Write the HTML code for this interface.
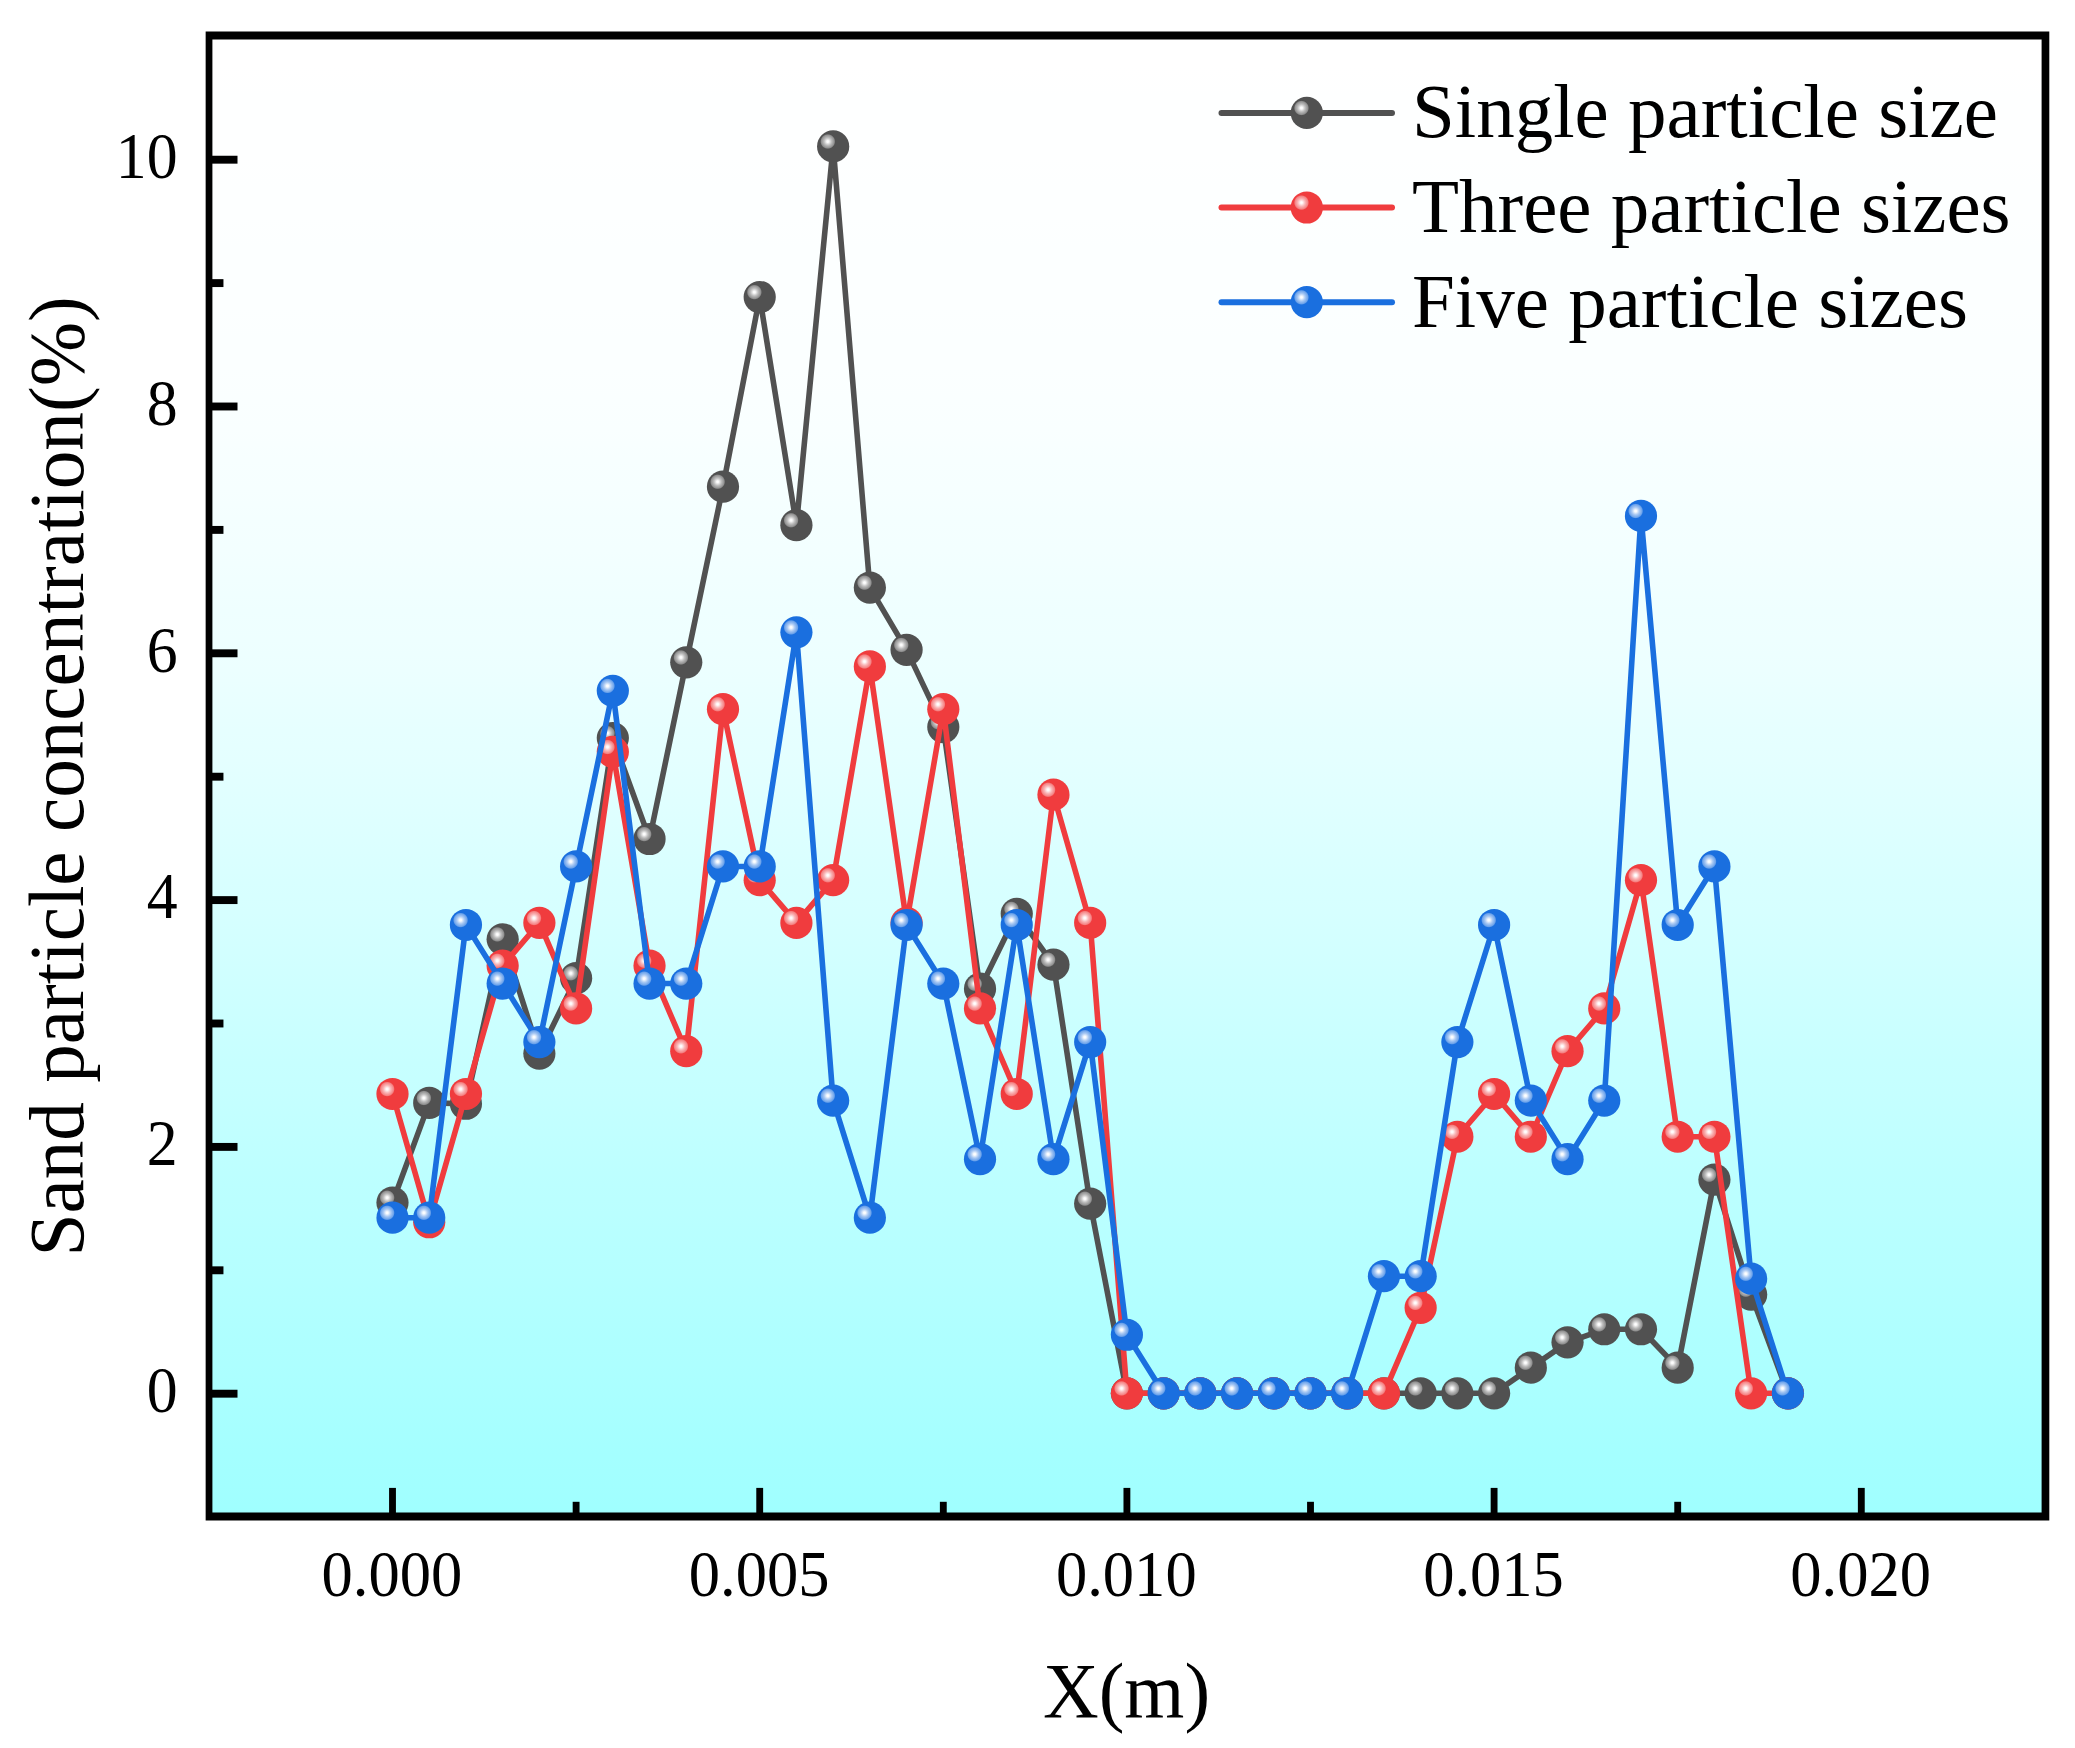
<!DOCTYPE html>
<html lang="en"><head><meta charset="utf-8"><title>Sand particle concentration</title>
<style>
html,body{margin:0;padding:0;background:#fff;}
body{width:2075px;height:1748px;overflow:hidden;}
svg{display:block;}
text{font-family:"Liberation Serif","Times New Roman",serif;fill:#000;}
.k{font-size:65px;}
.t{font-size:77.2px;}
</style></head><body>
<svg width="2075" height="1748" viewBox="0 0 2075 1748">
<defs>
<linearGradient id="bg" x1="0" y1="0" x2="0" y2="1">
<stop offset="0.0000" stop-color="#ffffff"/><stop offset="0.0204" stop-color="#ffffff"/><stop offset="0.0408" stop-color="#feffff"/><stop offset="0.0612" stop-color="#feffff"/><stop offset="0.0816" stop-color="#feffff"/><stop offset="0.1020" stop-color="#fdffff"/><stop offset="0.1224" stop-color="#fdffff"/><stop offset="0.1429" stop-color="#fcffff"/><stop offset="0.1633" stop-color="#fcffff"/><stop offset="0.1837" stop-color="#fcffff"/><stop offset="0.2041" stop-color="#fbffff"/><stop offset="0.2245" stop-color="#fbffff"/><stop offset="0.2449" stop-color="#faffff"/><stop offset="0.2653" stop-color="#f9ffff"/><stop offset="0.2857" stop-color="#f7ffff"/><stop offset="0.3061" stop-color="#f6ffff"/><stop offset="0.3265" stop-color="#f4ffff"/><stop offset="0.3469" stop-color="#f3ffff"/><stop offset="0.3673" stop-color="#f1ffff"/><stop offset="0.3878" stop-color="#efffff"/><stop offset="0.4082" stop-color="#eeffff"/><stop offset="0.4286" stop-color="#ecffff"/><stop offset="0.4490" stop-color="#e9ffff"/><stop offset="0.4694" stop-color="#e6ffff"/><stop offset="0.4898" stop-color="#e4ffff"/><stop offset="0.5102" stop-color="#e1ffff"/><stop offset="0.5306" stop-color="#deffff"/><stop offset="0.5510" stop-color="#dbffff"/><stop offset="0.5714" stop-color="#d8ffff"/><stop offset="0.5918" stop-color="#d6ffff"/><stop offset="0.6122" stop-color="#d3ffff"/><stop offset="0.6327" stop-color="#d0ffff"/><stop offset="0.6531" stop-color="#cdffff"/><stop offset="0.6735" stop-color="#caffff"/><stop offset="0.6939" stop-color="#c7ffff"/><stop offset="0.7143" stop-color="#c5ffff"/><stop offset="0.7347" stop-color="#c2ffff"/><stop offset="0.7551" stop-color="#bfffff"/><stop offset="0.7755" stop-color="#bcffff"/><stop offset="0.7959" stop-color="#baffff"/><stop offset="0.8163" stop-color="#b7ffff"/><stop offset="0.8367" stop-color="#b5ffff"/><stop offset="0.8571" stop-color="#b2ffff"/><stop offset="0.8776" stop-color="#afffff"/><stop offset="0.8980" stop-color="#adffff"/><stop offset="0.9184" stop-color="#aaffff"/><stop offset="0.9388" stop-color="#a7ffff"/><stop offset="0.9592" stop-color="#a4ffff"/><stop offset="0.9796" stop-color="#a2ffff"/><stop offset="1.0000" stop-color="#9fffff"/>
</linearGradient>
<radialGradient id="mg" cx="0.334" cy="0.348" r="0.235">
<stop offset="0" stop-color="#ffffff"/><stop offset="0.14" stop-color="#fafafa"/><stop offset="0.5" stop-color="#bdbdbd"/><stop offset="0.86" stop-color="#909090"/><stop offset="1" stop-color="#515151"/>
</radialGradient>
<radialGradient id="mr" cx="0.334" cy="0.348" r="0.235">
<stop offset="0" stop-color="#ffffff"/><stop offset="0.14" stop-color="#fff9f9"/><stop offset="0.5" stop-color="#f9b5b6"/><stop offset="0.86" stop-color="#f58283"/><stop offset="1" stop-color="#F03C3E"/>
</radialGradient>
<radialGradient id="mb" cx="0.334" cy="0.348" r="0.235">
<stop offset="0" stop-color="#ffffff"/><stop offset="0.14" stop-color="#f8fbfe"/><stop offset="0.5" stop-color="#a8c8f3"/><stop offset="0.86" stop-color="#6ca3eb"/><stop offset="1" stop-color="#1A6FDF"/>
</radialGradient>
</defs>
<rect x="209.0" y="35.55" width="1836.45" height="1480.95" fill="url(#bg)"/>
<g fill="#000"><rect x="211.4" y="1389.75" width="26.10" height="7.9"/><rect x="211.4" y="1142.95" width="26.10" height="7.9"/><rect x="211.4" y="896.15" width="26.10" height="7.9"/><rect x="211.4" y="649.35" width="26.10" height="7.9"/><rect x="211.4" y="402.55" width="26.10" height="7.9"/><rect x="211.4" y="155.75" width="26.10" height="7.9"/><rect x="211.4" y="1266.35" width="12.05" height="7.9"/><rect x="211.4" y="1019.55" width="12.05" height="7.9"/><rect x="211.4" y="772.75" width="12.05" height="7.9"/><rect x="211.4" y="525.95" width="12.05" height="7.9"/><rect x="211.4" y="279.15" width="12.05" height="7.9"/><rect x="389.07" y="1487.9" width="6.85" height="25.70"/><rect x="756.28" y="1487.9" width="6.85" height="25.70"/><rect x="1123.48" y="1487.9" width="6.85" height="25.70"/><rect x="1490.67" y="1487.9" width="6.85" height="25.70"/><rect x="1857.88" y="1487.9" width="6.85" height="25.70"/><rect x="572.68" y="1501.8" width="6.85" height="11.80"/><rect x="939.88" y="1501.8" width="6.85" height="11.80"/><rect x="1307.08" y="1501.8" width="6.85" height="11.80"/><rect x="1674.28" y="1501.8" width="6.85" height="11.80"/></g>
<g><polyline points="392.50,1202.57 429.22,1102.89 465.94,1103.75 502.66,939.30 539.38,1053.54 576.10,978.16 612.82,738.08 649.54,839.00 686.26,662.33 722.98,486.65 759.70,297.03 796.42,525.15 833.14,146.40 869.86,587.57 906.58,649.87 943.30,727.10 980.02,988.65 1016.74,913.76 1053.46,964.59 1090.18,1203.56 1126.90,1393.30 1163.62,1393.30 1200.34,1393.30 1237.06,1393.30 1273.78,1393.30 1310.50,1393.30 1347.22,1393.30 1383.94,1393.30 1420.66,1393.30 1457.38,1393.30 1494.10,1393.30 1530.82,1367.64 1567.54,1342.35 1604.26,1329.27 1640.98,1329.27 1677.70,1367.64 1714.42,1179.62 1751.14,1294.60 1787.86,1393.30" fill="none" stroke="#515151" stroke-width="5.6" stroke-linejoin="round" stroke-linecap="round"/>
<circle cx="392.50" cy="1202.57" r="16.1" fill="url(#mg)"/>
<circle cx="429.22" cy="1102.89" r="16.1" fill="url(#mg)"/>
<circle cx="465.94" cy="1103.75" r="16.1" fill="url(#mg)"/>
<circle cx="502.66" cy="939.30" r="16.1" fill="url(#mg)"/>
<circle cx="539.38" cy="1053.54" r="16.1" fill="url(#mg)"/>
<circle cx="576.10" cy="978.16" r="16.1" fill="url(#mg)"/>
<circle cx="612.82" cy="738.08" r="16.1" fill="url(#mg)"/>
<circle cx="649.54" cy="839.00" r="16.1" fill="url(#mg)"/>
<circle cx="686.26" cy="662.33" r="16.1" fill="url(#mg)"/>
<circle cx="722.98" cy="486.65" r="16.1" fill="url(#mg)"/>
<circle cx="759.70" cy="297.03" r="16.1" fill="url(#mg)"/>
<circle cx="796.42" cy="525.15" r="16.1" fill="url(#mg)"/>
<circle cx="833.14" cy="146.40" r="16.1" fill="url(#mg)"/>
<circle cx="869.86" cy="587.57" r="16.1" fill="url(#mg)"/>
<circle cx="906.58" cy="649.87" r="16.1" fill="url(#mg)"/>
<circle cx="943.30" cy="727.10" r="16.1" fill="url(#mg)"/>
<circle cx="980.02" cy="988.65" r="16.1" fill="url(#mg)"/>
<circle cx="1016.74" cy="913.76" r="16.1" fill="url(#mg)"/>
<circle cx="1053.46" cy="964.59" r="16.1" fill="url(#mg)"/>
<circle cx="1090.18" cy="1203.56" r="16.1" fill="url(#mg)"/>
<circle cx="1126.90" cy="1393.30" r="16.1" fill="url(#mg)"/>
<circle cx="1163.62" cy="1393.30" r="16.1" fill="url(#mg)"/>
<circle cx="1200.34" cy="1393.30" r="16.1" fill="url(#mg)"/>
<circle cx="1237.06" cy="1393.30" r="16.1" fill="url(#mg)"/>
<circle cx="1273.78" cy="1393.30" r="16.1" fill="url(#mg)"/>
<circle cx="1310.50" cy="1393.30" r="16.1" fill="url(#mg)"/>
<circle cx="1347.22" cy="1393.30" r="16.1" fill="url(#mg)"/>
<circle cx="1383.94" cy="1393.30" r="16.1" fill="url(#mg)"/>
<circle cx="1420.66" cy="1393.30" r="16.1" fill="url(#mg)"/>
<circle cx="1457.38" cy="1393.30" r="16.1" fill="url(#mg)"/>
<circle cx="1494.10" cy="1393.30" r="16.1" fill="url(#mg)"/>
<circle cx="1530.82" cy="1367.64" r="16.1" fill="url(#mg)"/>
<circle cx="1567.54" cy="1342.35" r="16.1" fill="url(#mg)"/>
<circle cx="1604.26" cy="1329.27" r="16.1" fill="url(#mg)"/>
<circle cx="1640.98" cy="1329.27" r="16.1" fill="url(#mg)"/>
<circle cx="1677.70" cy="1367.64" r="16.1" fill="url(#mg)"/>
<circle cx="1714.42" cy="1179.62" r="16.1" fill="url(#mg)"/>
<circle cx="1751.14" cy="1294.60" r="16.1" fill="url(#mg)"/>
<circle cx="1787.86" cy="1393.30" r="16.1" fill="url(#mg)"/></g>
<g><polyline points="392.50,1093.98 429.22,1222.26 465.94,1093.98 502.66,965.70 539.38,922.94 576.10,1008.46 612.82,751.90 649.54,965.70 686.26,1051.22 722.98,709.14 759.70,880.18 796.42,922.94 833.14,880.18 869.86,666.38 906.58,922.94 943.30,709.14 980.02,1008.46 1016.74,1093.98 1053.46,794.66 1090.18,922.94 1126.90,1393.30 1163.62,1393.30 1200.34,1393.30 1237.06,1393.30 1273.78,1393.30 1310.50,1393.30 1347.22,1393.30 1383.94,1393.30 1420.66,1307.78 1457.38,1136.74 1494.10,1093.98 1530.82,1136.74 1567.54,1051.22 1604.26,1008.46 1640.98,880.18 1677.70,1136.74 1714.42,1136.74 1751.14,1393.30 1787.86,1393.30" fill="none" stroke="#F03C3E" stroke-width="5.6" stroke-linejoin="round" stroke-linecap="round"/>
<circle cx="392.50" cy="1093.98" r="16.1" fill="url(#mr)"/>
<circle cx="429.22" cy="1222.26" r="16.1" fill="url(#mr)"/>
<circle cx="465.94" cy="1093.98" r="16.1" fill="url(#mr)"/>
<circle cx="502.66" cy="965.70" r="16.1" fill="url(#mr)"/>
<circle cx="539.38" cy="922.94" r="16.1" fill="url(#mr)"/>
<circle cx="576.10" cy="1008.46" r="16.1" fill="url(#mr)"/>
<circle cx="612.82" cy="751.90" r="16.1" fill="url(#mr)"/>
<circle cx="649.54" cy="965.70" r="16.1" fill="url(#mr)"/>
<circle cx="686.26" cy="1051.22" r="16.1" fill="url(#mr)"/>
<circle cx="722.98" cy="709.14" r="16.1" fill="url(#mr)"/>
<circle cx="759.70" cy="880.18" r="16.1" fill="url(#mr)"/>
<circle cx="796.42" cy="922.94" r="16.1" fill="url(#mr)"/>
<circle cx="833.14" cy="880.18" r="16.1" fill="url(#mr)"/>
<circle cx="869.86" cy="666.38" r="16.1" fill="url(#mr)"/>
<circle cx="906.58" cy="922.94" r="16.1" fill="url(#mr)"/>
<circle cx="943.30" cy="709.14" r="16.1" fill="url(#mr)"/>
<circle cx="980.02" cy="1008.46" r="16.1" fill="url(#mr)"/>
<circle cx="1016.74" cy="1093.98" r="16.1" fill="url(#mr)"/>
<circle cx="1053.46" cy="794.66" r="16.1" fill="url(#mr)"/>
<circle cx="1090.18" cy="922.94" r="16.1" fill="url(#mr)"/>
<circle cx="1126.90" cy="1393.30" r="16.1" fill="url(#mr)"/>
<circle cx="1163.62" cy="1393.30" r="16.1" fill="url(#mr)"/>
<circle cx="1200.34" cy="1393.30" r="16.1" fill="url(#mr)"/>
<circle cx="1237.06" cy="1393.30" r="16.1" fill="url(#mr)"/>
<circle cx="1273.78" cy="1393.30" r="16.1" fill="url(#mr)"/>
<circle cx="1310.50" cy="1393.30" r="16.1" fill="url(#mr)"/>
<circle cx="1347.22" cy="1393.30" r="16.1" fill="url(#mr)"/>
<circle cx="1383.94" cy="1393.30" r="16.1" fill="url(#mr)"/>
<circle cx="1420.66" cy="1307.78" r="16.1" fill="url(#mr)"/>
<circle cx="1457.38" cy="1136.74" r="16.1" fill="url(#mr)"/>
<circle cx="1494.10" cy="1093.98" r="16.1" fill="url(#mr)"/>
<circle cx="1530.82" cy="1136.74" r="16.1" fill="url(#mr)"/>
<circle cx="1567.54" cy="1051.22" r="16.1" fill="url(#mr)"/>
<circle cx="1604.26" cy="1008.46" r="16.1" fill="url(#mr)"/>
<circle cx="1640.98" cy="880.18" r="16.1" fill="url(#mr)"/>
<circle cx="1677.70" cy="1136.74" r="16.1" fill="url(#mr)"/>
<circle cx="1714.42" cy="1136.74" r="16.1" fill="url(#mr)"/>
<circle cx="1751.14" cy="1393.30" r="16.1" fill="url(#mr)"/>
<circle cx="1787.86" cy="1393.30" r="16.1" fill="url(#mr)"/></g>
<g><polyline points="392.50,1217.68 429.22,1217.68 465.94,924.99 502.66,983.53 539.38,1042.07 576.10,866.45 612.82,690.83 649.54,983.53 686.26,983.53 722.98,866.45 759.70,866.45 796.42,632.29 833.14,1100.60 869.86,1217.68 906.58,924.99 943.30,983.53 980.02,1159.14 1016.74,924.99 1053.46,1159.14 1090.18,1042.07 1126.90,1334.76 1163.62,1393.30 1200.34,1393.30 1237.06,1393.30 1273.78,1393.30 1310.50,1393.30 1347.22,1393.30 1383.94,1276.22 1420.66,1276.22 1457.38,1042.07 1494.10,924.99 1530.82,1100.60 1567.54,1159.14 1604.26,1100.60 1640.98,515.89 1677.70,924.99 1714.42,866.45 1751.14,1278.69 1787.86,1393.30" fill="none" stroke="#1A6FDF" stroke-width="5.6" stroke-linejoin="round" stroke-linecap="round"/>
<circle cx="392.50" cy="1217.68" r="16.1" fill="url(#mb)"/>
<circle cx="429.22" cy="1217.68" r="16.1" fill="url(#mb)"/>
<circle cx="465.94" cy="924.99" r="16.1" fill="url(#mb)"/>
<circle cx="502.66" cy="983.53" r="16.1" fill="url(#mb)"/>
<circle cx="539.38" cy="1042.07" r="16.1" fill="url(#mb)"/>
<circle cx="576.10" cy="866.45" r="16.1" fill="url(#mb)"/>
<circle cx="612.82" cy="690.83" r="16.1" fill="url(#mb)"/>
<circle cx="649.54" cy="983.53" r="16.1" fill="url(#mb)"/>
<circle cx="686.26" cy="983.53" r="16.1" fill="url(#mb)"/>
<circle cx="722.98" cy="866.45" r="16.1" fill="url(#mb)"/>
<circle cx="759.70" cy="866.45" r="16.1" fill="url(#mb)"/>
<circle cx="796.42" cy="632.29" r="16.1" fill="url(#mb)"/>
<circle cx="833.14" cy="1100.60" r="16.1" fill="url(#mb)"/>
<circle cx="869.86" cy="1217.68" r="16.1" fill="url(#mb)"/>
<circle cx="906.58" cy="924.99" r="16.1" fill="url(#mb)"/>
<circle cx="943.30" cy="983.53" r="16.1" fill="url(#mb)"/>
<circle cx="980.02" cy="1159.14" r="16.1" fill="url(#mb)"/>
<circle cx="1016.74" cy="924.99" r="16.1" fill="url(#mb)"/>
<circle cx="1053.46" cy="1159.14" r="16.1" fill="url(#mb)"/>
<circle cx="1090.18" cy="1042.07" r="16.1" fill="url(#mb)"/>
<circle cx="1126.90" cy="1334.76" r="16.1" fill="url(#mb)"/>
<circle cx="1163.62" cy="1393.30" r="16.1" fill="url(#mb)"/>
<circle cx="1200.34" cy="1393.30" r="16.1" fill="url(#mb)"/>
<circle cx="1237.06" cy="1393.30" r="16.1" fill="url(#mb)"/>
<circle cx="1273.78" cy="1393.30" r="16.1" fill="url(#mb)"/>
<circle cx="1310.50" cy="1393.30" r="16.1" fill="url(#mb)"/>
<circle cx="1347.22" cy="1393.30" r="16.1" fill="url(#mb)"/>
<circle cx="1383.94" cy="1276.22" r="16.1" fill="url(#mb)"/>
<circle cx="1420.66" cy="1276.22" r="16.1" fill="url(#mb)"/>
<circle cx="1457.38" cy="1042.07" r="16.1" fill="url(#mb)"/>
<circle cx="1494.10" cy="924.99" r="16.1" fill="url(#mb)"/>
<circle cx="1530.82" cy="1100.60" r="16.1" fill="url(#mb)"/>
<circle cx="1567.54" cy="1159.14" r="16.1" fill="url(#mb)"/>
<circle cx="1604.26" cy="1100.60" r="16.1" fill="url(#mb)"/>
<circle cx="1640.98" cy="515.89" r="16.1" fill="url(#mb)"/>
<circle cx="1677.70" cy="924.99" r="16.1" fill="url(#mb)"/>
<circle cx="1714.42" cy="866.45" r="16.1" fill="url(#mb)"/>
<circle cx="1751.14" cy="1278.69" r="16.1" fill="url(#mb)"/>
<circle cx="1787.86" cy="1393.30" r="16.1" fill="url(#mb)"/></g>
<path fill="#000" fill-rule="evenodd" d="M205.65 31.6H2049.3V1520.55H205.65ZM212.4 39.5V1512.6H2041.6V39.5Z"/>
<text class="k" x="177.6" y="1411.9" text-anchor="end" textLength="30.88" lengthAdjust="spacingAndGlyphs">0</text>
<text class="k" x="177.6" y="1165.1" text-anchor="end" textLength="30.88" lengthAdjust="spacingAndGlyphs">2</text>
<text class="k" x="177.6" y="918.3" text-anchor="end" textLength="30.88" lengthAdjust="spacingAndGlyphs">4</text>
<text class="k" x="177.6" y="671.5" text-anchor="end" textLength="30.88" lengthAdjust="spacingAndGlyphs">6</text>
<text class="k" x="177.6" y="424.7" text-anchor="end" textLength="30.88" lengthAdjust="spacingAndGlyphs">8</text>
<text class="k" x="177.6" y="177.9" text-anchor="end" textLength="61.75" lengthAdjust="spacingAndGlyphs">10</text>
<text class="k" x="391.9" y="1596.0" text-anchor="middle" textLength="140.69" lengthAdjust="spacingAndGlyphs">0.000</text>
<text class="k" x="759.1" y="1596.0" text-anchor="middle" textLength="140.69" lengthAdjust="spacingAndGlyphs">0.005</text>
<text class="k" x="1126.3" y="1596.0" text-anchor="middle" textLength="140.69" lengthAdjust="spacingAndGlyphs">0.010</text>
<text class="k" x="1493.5" y="1596.0" text-anchor="middle" textLength="140.69" lengthAdjust="spacingAndGlyphs">0.015</text>
<text class="k" x="1860.7" y="1596.0" text-anchor="middle" textLength="140.69" lengthAdjust="spacingAndGlyphs">0.020</text>
<text class="t" x="1126.5" y="1716.7" text-anchor="middle">X(m)</text>
<text class="t" transform="translate(83.3 776.4) rotate(-90)" text-anchor="middle">Sand particle concentration(%)</text>
<line x1="1221.5" y1="112.9" x2="1392" y2="112.9" stroke="#515151" stroke-width="6.0" stroke-linecap="round"/>
<circle cx="1306.8" cy="112.9" r="16.1" fill="url(#mg)"/>
<text class="t" style="font-size:77px" x="1412" y="137.3">Single particle size</text>
<line x1="1221.5" y1="207.5" x2="1392" y2="207.5" stroke="#F03C3E" stroke-width="6.0" stroke-linecap="round"/>
<circle cx="1306.8" cy="207.5" r="16.1" fill="url(#mr)"/>
<text class="t" style="font-size:77px" x="1412" y="231.9">Three particle sizes</text>
<line x1="1221.5" y1="302.2" x2="1392" y2="302.2" stroke="#1A6FDF" stroke-width="6.0" stroke-linecap="round"/>
<circle cx="1306.8" cy="302.2" r="16.1" fill="url(#mb)"/>
<text class="t" style="font-size:77px" x="1412" y="326.6">Five particle sizes</text>
</svg></body></html>
